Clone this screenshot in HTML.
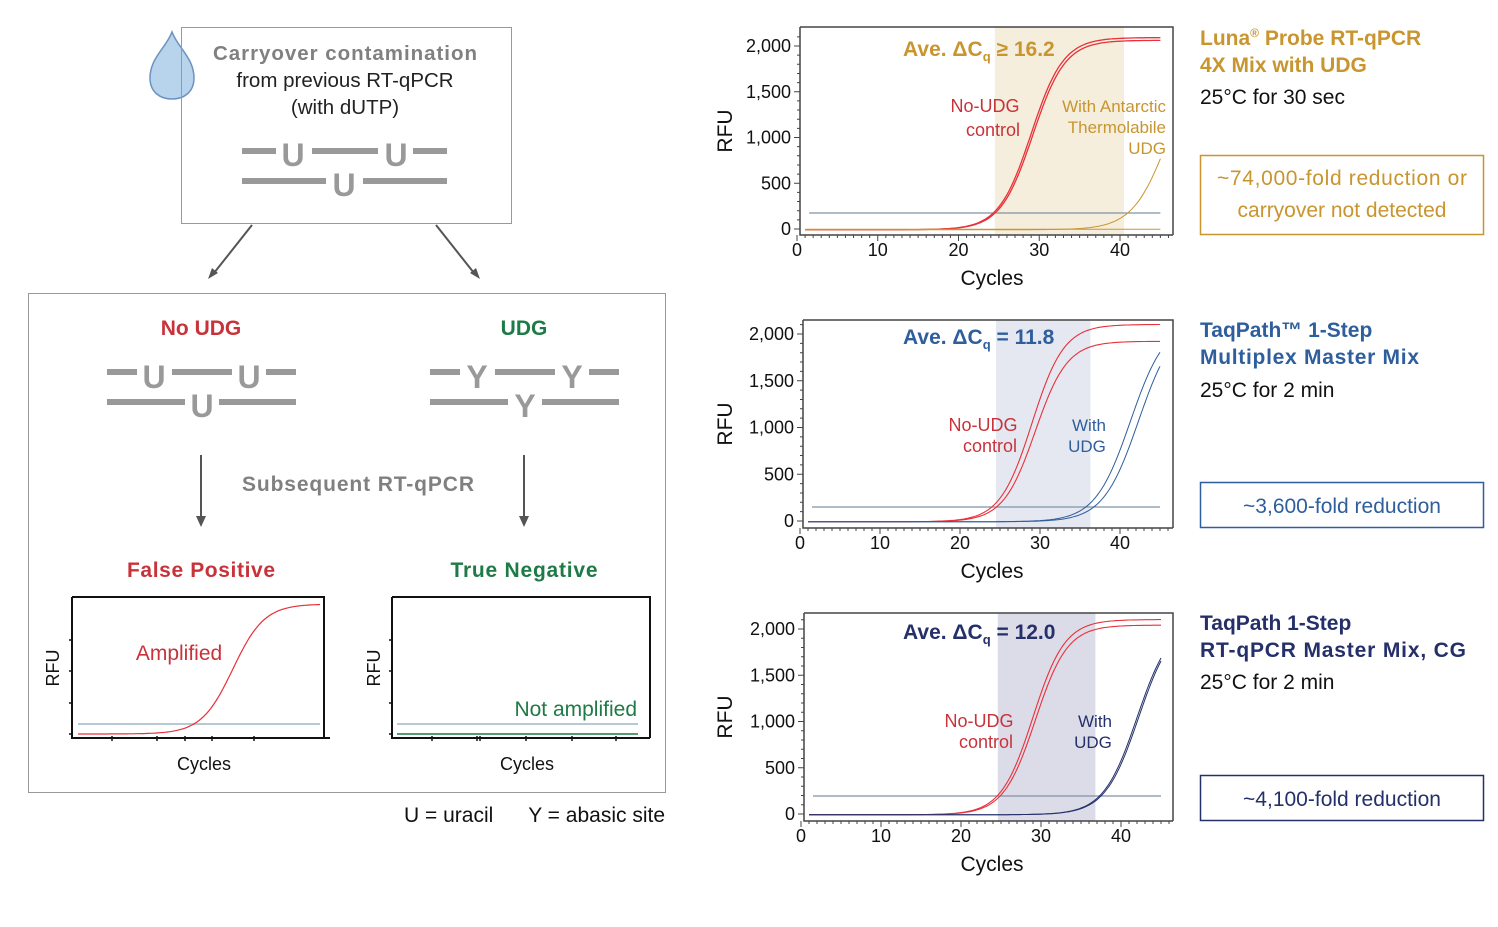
<!DOCTYPE html>
<html><head><meta charset="utf-8"><style>
body{margin:0;background:#fff;width:1498px;height:922px;overflow:hidden}
svg{font-family:"Liberation Sans",Arial,sans-serif}
</style></head><body>
<svg id="s" width="1498" height="922" viewBox="0 0 1498 922" xmlns="http://www.w3.org/2000/svg">
<path d="M172,32 C166,48 150,58 150,78 C150,92 160,99 172,99 C184,99 194,92 194,78 C194,58 178,48 172,32Z" fill="#b8d3ec" stroke="#6c93c0" stroke-width="1.5"/>
<rect x="181.5" y="27.5" width="330" height="196" fill="none" stroke="#999"/>
<text x="345" y="60" text-anchor="middle" font-size="20.5" font-weight="bold" fill="#808080" textLength="264">Carryover contamination</text>
<text x="345" y="87" text-anchor="middle" font-size="20.5" fill="#222">from previous RT-qPCR</text>
<text x="345" y="114" text-anchor="middle" font-size="20.5" fill="#222">(with dUTP)</text>
<g fill="#999">
<rect x="242" y="148" width="34" height="6"/><rect x="312" y="148" width="66" height="6"/><rect x="413" y="148" width="34" height="6"/>
<rect x="242" y="178" width="84" height="6"/><rect x="363" y="178" width="84" height="6"/>
<text x="293" y="166" text-anchor="middle" font-size="32" font-weight="bold">U</text>
<text x="396" y="166" text-anchor="middle" font-size="32" font-weight="bold">U</text>
<text x="344" y="196" text-anchor="middle" font-size="32" font-weight="bold">U</text>
</g>
<g stroke="#555" stroke-width="2"><line x1="252" y1="225" x2="214" y2="273"/><line x1="436" y1="225" x2="474" y2="273"/></g>
<path d="M208,279 L212,268 L218,273Z M480,279 L470,273 L476,268Z" fill="#555"/>
<rect x="28.5" y="293.5" width="637" height="499" fill="none" stroke="#999"/>
<text x="201" y="335" text-anchor="middle" font-size="21" font-weight="bold" fill="#c8333b">No UDG</text>
<text x="524" y="335" text-anchor="middle" font-size="21" font-weight="bold" fill="#1e7a46">UDG</text>
<g fill="#999">
<rect x="107" y="369" width="30" height="6"/><rect x="172" y="369" width="60" height="6"/><rect x="266" y="369" width="30" height="6"/>
<rect x="107" y="399" width="78" height="6"/><rect x="219" y="399" width="77" height="6"/>
<text x="154" y="388" text-anchor="middle" font-size="32" font-weight="bold">U</text>
<text x="249" y="388" text-anchor="middle" font-size="32" font-weight="bold">U</text>
<text x="202" y="417" text-anchor="middle" font-size="32" font-weight="bold">U</text>
<rect x="430" y="369" width="30" height="6"/><rect x="495" y="369" width="60" height="6"/><rect x="589" y="369" width="30" height="6"/>
<rect x="430" y="399" width="78" height="6"/><rect x="542" y="399" width="77" height="6"/>
<text x="477" y="388" text-anchor="middle" font-size="32" font-weight="bold">Y</text>
<text x="572" y="388" text-anchor="middle" font-size="32" font-weight="bold">Y</text>
<text x="525" y="417" text-anchor="middle" font-size="32" font-weight="bold">Y</text>
</g>
<g stroke="#555" stroke-width="2"><line x1="201" y1="455" x2="201" y2="518"/><line x1="524" y1="455" x2="524" y2="518"/></g>
<path d="M196,516 L206,516 L201,527Z M519,516 L529,516 L524,527Z" fill="#555"/>
<text x="358" y="491" text-anchor="middle" font-size="21" font-weight="bold" fill="#808080" textLength="232">Subsequent RT-qPCR</text>
<text x="201" y="577" text-anchor="middle" font-size="21" font-weight="bold" fill="#c8333b" textLength="148">False Positive</text>
<text x="524" y="577" text-anchor="middle" font-size="21" font-weight="bold" fill="#1e7a46" textLength="147">True Negative</text>
<g fill="none" stroke="#111" stroke-width="2">
<path d="M72,597 V738 H330 M72,597 H324 V738"/>
<path d="M392,597 V738 H650 M392,597 H650 V738"/>
</g>
<g stroke="#111" stroke-width="1.5">
<path d="M69,640h4M69,671h4M69,703h4M69,734h4M112,736v5M157,736v5M185,736v5M212,736v5M254,736v5M389,640h4M389,671h4M389,703h4M389,734h4M432,736v5M477,736v5M480,736v5M526,736v5M572,736v5M616,736v5"/>
</g>
<line x1="78" y1="724" x2="320" y2="724" stroke="#b8c8d4" stroke-width="2"/>
<line x1="397" y1="724" x2="638" y2="724" stroke="#b8c8d4" stroke-width="2"/>
<line x1="397" y1="734" x2="638" y2="734" stroke="#1e7a46" stroke-width="1.5"/>
<path id="amp" fill="none" stroke="#e8313a" stroke-width="1.2"/>
<text x="179" y="660" text-anchor="middle" font-size="21" fill="#c8333b">Amplified</text>
<text x="637" y="716" text-anchor="end" font-size="21" fill="#1e7a46">Not amplified</text>
<text x="204" y="770" text-anchor="middle" font-size="18" fill="#111">Cycles</text>
<text x="527" y="770" text-anchor="middle" font-size="18" fill="#111">Cycles</text>
<text transform="translate(59,668) rotate(-90)" text-anchor="middle" font-size="18" fill="#111">RFU</text>
<text transform="translate(380,668) rotate(-90)" text-anchor="middle" font-size="18" fill="#111">RFU</text>
<text x="404" y="822" font-size="21" fill="#111">U = uracil</text>
<text x="665" y="822" text-anchor="end" font-size="21" fill="#111">Y = abasic site</text>
<g id="charts"></g>
<g font-size="21" font-weight="bold">
<text x="1200" y="45" fill="#c8952f">Luna<tspan font-size="12" dy="-8">®</tspan><tspan dy="8"> Probe RT-qPCR</tspan></text>
<text x="1200" y="72" fill="#c8952f">4X Mix with UDG</text>
<text x="1200" y="337" fill="#2e5e9c">TaqPath™ 1-Step</text>
<text x="1200" y="364" fill="#2e5e9c" textLength="219">Multiplex Master Mix</text>
<text x="1200" y="630" fill="#25306a">TaqPath 1-Step</text>
<text x="1200" y="657" fill="#25306a" textLength="266">RT-qPCR Master Mix, CG</text>
</g>
<g font-size="21" fill="#111">
<text x="1200" y="104">25°C for 30 sec</text>
<text x="1200" y="397">25°C for 2 min</text>
<text x="1200" y="689">25°C for 2 min</text>
</g>
<rect x="1200.5" y="155.5" width="283" height="79" fill="none" stroke="#c8952f" stroke-width="1.5"/>
<text x="1342" y="185" text-anchor="middle" font-size="21" fill="#c8952f" textLength="250">~74,000-fold reduction or</text>
<text x="1342" y="217" text-anchor="middle" font-size="21" fill="#c8952f">carryover not detected</text>
<rect x="1200.5" y="482.5" width="283" height="45" fill="none" stroke="#2e5e9c" stroke-width="1.5"/>
<text x="1342" y="513" text-anchor="middle" font-size="21" fill="#2e5e9c">~3,600-fold reduction</text>
<rect x="1200.5" y="775.5" width="283" height="45" fill="none" stroke="#25306a" stroke-width="1.5"/>
<text x="1342" y="806" text-anchor="middle" font-size="21" fill="#25306a">~4,100-fold reduction</text>
</svg>
<script>
var NS="http://www.w3.org/2000/svg";
function el(p,t,a,txt){var e=document.createElementNS(NS,t);for(var k in a)e.setAttribute(k,a[k]);if(txt!=null)e.textContent=txt;p.appendChild(e);return e;}
function sig(A,c0,k){return function(c){return A/(1+Math.exp(-(c-c0)/k));};}
(function(){var d="";for(var i=0;i<=100;i++){var x=78+i*2.42;var c=i/100;var y=734-130/(1+Math.exp(-(c-0.64)/0.065));d+=(i?"L":"M")+x.toFixed(1)+","+y.toFixed(1);}document.getElementById("amp").setAttribute("d",d);})();
var G=document.getElementById("charts");
var charts=[
 {x0:797,px:8.075,y0:229,py:0.0915,top:27,bot:235,sh:[24.5,40.5],shc:"#f5eedd",th:213,lbl:"16.2",op:"≥",col:"#c8952f",
  curves:[[sig(2100,29,2.0),"#e8313a",1.3],[sig(2070,29.2,2.0),"#e8313a",1.3],[sig(2000,46,2.2),"#c8952f",1],[function(){return 5},"#c8952f",1]],
  t1:[["No-UDG",985,112],["control",993,136]],t1c:"#c8333b",
  t2:[["With Antarctic",1166,112],["Thermolabile",1166,133],["UDG",1166,154]],t2c:"#c8952f",t2a:"end"},
 {x0:800,px:8,y0:521,py:0.0935,top:320,bot:528,sh:[24.5,36.3],shc:"#e6e8f1",th:507,lbl:"11.8",op:"=",col:"#2e5e9c",
  curves:[[sig(2110,29,2.0),"#e8313a",1.1],[sig(1930,29.4,2.0),"#e8313a",1.1],[sig(2150,41.3,2.2),"#2e5e9c",1],[sig(2150,42.3,2.2),"#2e5e9c",1]],
  t1:[["No-UDG",983,431],["control",990,452]],t1c:"#c8333b",
  t2:[["With",1089,431],["UDG",1087,452]],t2c:"#2e5e9c",t2a:"middle"},
 {x0:801,px:8,y0:814,py:0.0925,top:613,bot:821,sh:[24.6,36.8],shc:"#dcdbe8",th:796,lbl:"12.0",op:"=",col:"#25306a",
  curves:[[sig(2110,29,2.0),"#e8313a",1.1],[sig(2050,29.3,2.0),"#e8313a",1.1],[sig(2100,42,2.1),"#25306a",1],[sig(2100,42.2,2.1),"#25306a",1]],
  t1:[["No-UDG",979,727],["control",986,748]],t1c:"#c8333b",
  t2:[["With",1095,727],["UDG",1093,748]],t2c:"#25306a",t2a:"middle"}
];
charts.forEach(function(C){
 var X=function(c){return C.x0+c*C.px},Y=function(v){return C.y0-v*C.py};
 var L=C.x0+3,R=1173;
 el(G,"rect",{x:X(C.sh[0]),y:C.top,width:X(C.sh[1])-X(C.sh[0]),height:C.bot-C.top,fill:C.shc});
 el(G,"line",{x1:X(1.5),x2:X(45),y1:C.th,y2:C.th,stroke:"#7f93a6","stroke-width":1.2});
 C.curves.forEach(function(cv){var d="";for(var c=1;c<=45;c+=0.25){d+=(c==1?"M":"L")+X(c).toFixed(1)+","+Y(cv[0](c)-8).toFixed(1);}el(G,"path",{d:d,fill:"none",stroke:cv[1],"stroke-width":cv[2]});});
 el(G,"path",{d:"M"+L+","+C.top+"H"+R+"V"+C.bot+"M"+L+","+C.top+"V"+C.bot+"H"+R,fill:"none",stroke:"#444","stroke-width":1.5});
 var tk="";for(var c=0;c<=46;c++){var h=(c%10==0)?6:3;tk+="M"+X(c)+","+C.bot+"v"+h;}
 for(var v=0;v<=2100;v+=100){var w=(v%500==0)?6:3;tk+="M"+L+","+Y(v)+"h-"+w;}
 el(G,"path",{d:tk,stroke:"#444","stroke-width":1,fill:"none"});
 for(var c=0;c<=40;c+=10)el(G,"text",{x:X(c),y:C.bot+21,"text-anchor":"middle","font-size":18,fill:"#111"},c);
 ["0","500","1,000","1,500","2,000"].forEach(function(s,i){el(G,"text",{x:L-9,y:Y(i*500)+6,"text-anchor":"end","font-size":18,fill:"#111"},s);});
 el(G,"text",{x:992,y:C.bot+50,"text-anchor":"middle","font-size":21,fill:"#111"},"Cycles");
 el(G,"text",{transform:"translate(732,"+((C.top+C.bot)/2)+") rotate(-90)","text-anchor":"middle","font-size":21,fill:"#111"},"RFU");
 var t=el(G,"text",{x:903,y:Y(2000)+10,"font-size":21,"font-weight":"bold",fill:C.col},"Ave. ΔC");
 el(t,"tspan",{"font-size":13,dy:5},"q");el(t,"tspan",{dy:-5}," "+C.op+" "+C.lbl);
 C.t1.forEach(function(a){el(G,"text",{x:a[1],y:a[2],"text-anchor":"middle","font-size":18,fill:C.t1c},a[0]);});
 C.t2.forEach(function(a){el(G,"text",{x:a[1],y:a[2],"text-anchor":C.t2a,"font-size":17,fill:C.t2c},a[0]);});
});
</script>
</body></html>
